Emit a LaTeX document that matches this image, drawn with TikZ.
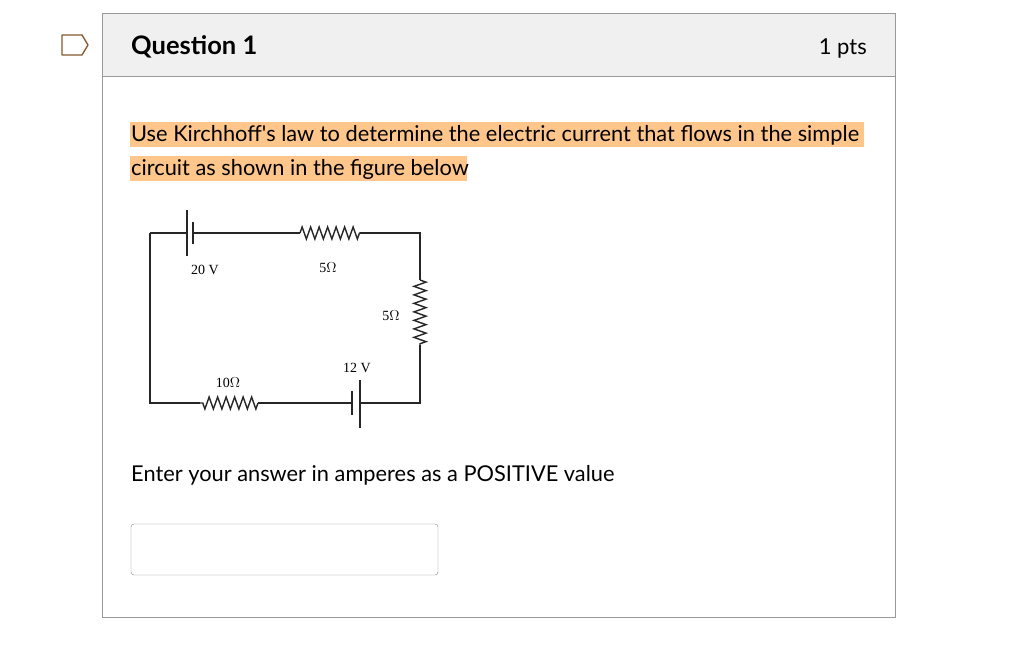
\documentclass[tikz,border=0pt]{standalone}
\usepackage{fontspec}
\setmainfont{Lato}
\newfontfamily\circfont{Liberation Serif}
\usetikzlibrary{decorations.pathmorphing}
\begin{document}
\begin{tikzpicture}[x=1pt,y=-1pt]

\tikzset{wire/.style={line width=1.4pt, black!85}}
\tikzset{resist/.style={wire, decorate, decoration={zigzag, amplitude=6pt, segment length=8.5pt}}}
\tikzset{lbl/.style={font=\circfont\fontsize{14}{14}\selectfont, inner sep=0pt}}
\tikzset{qtext/.style={font=\fontsize{21.8}{22}\selectfont, anchor=base west, inner sep=0pt}}
\tikzset{hilite/.style={fill=orange!45!white, draw=none}}

\useasboundingbox (0,0) rectangle (1024,657);
\fill[white] (0,0) rectangle (1024,657);

% frame and header
\fill[black!6] (102,13) rectangle (895,76);
\draw[black!40] (102,13) rectangle (895,617);
\draw[black!40] (102,76) -- (895,76);
\draw[brown!70!black, line width=1.3pt, line join=round] (62,35) -- (82,35) -- (88,45) -- (82,55) -- (62,55) -- cycle;
\node (title) [qtext, font=\bfseries\fontsize{25.5}{26}\selectfont] at (131,54) {Question 1};
\node (pts) [qtext, anchor=base east, font=\fontsize{22}{22}\selectfont] at (867,54) {1 pts};

% highlighted question
\fill[hilite] (130,122) rectangle (864,147);
\fill[hilite] (130,156) rectangle (467,181);
\node (line1) [qtext] at (131,141) {Use Kirchhoff\textquotesingle s law to determine the electric current that flows in the simple};
\node (line2) [qtext] at (131,175) {circuit as shown in the figure below};

% circuit
\coordinate (tl) at (150,233);
\coordinate (tr) at (420,233);
\coordinate (br) at (420,403);
\coordinate (bl) at (150,403);
\draw[wire] (tl) -- (187,233);
\draw[wire] (187,210) -- (187,256);
\draw[wire] (193,222) -- (193,244);
\draw[wire] (193,233) -- (300,233);
\draw[resist] (300,233) -- (360,233);
\draw[wire] (360,233) -- (tr) -- (420,280);
\draw[resist] (420,280) -- (420,345);
\draw[wire] (420,345) -- (br) -- (360,403);
\draw[wire] (360,380) -- (360,428);
\draw[wire] (352,391) -- (352,415);
\draw[wire] (352,403) -- (258,403);
\draw[resist] (258,403) -- (200,403);
\draw[wire] (200,403) -- (bl) -- (tl);

\node (v20) [lbl] at (205,270) {20 V};
\node (r5a) [lbl] at (328,268) {5$\Omega$};
\node (r5b) [lbl] at (391,316) {5$\Omega$};
\node (v12) [lbl] at (357,368) {12 V};
\node (r10) [lbl] at (228,383) {10$\Omega$};

% answer
\node (enter) [qtext] at (131,481) {Enter your answer in amperes as a POSITIVE value};
\draw[black!45, rounded corners=3pt] (131,524) rectangle (438,575);

\end{tikzpicture}
\end{document}
